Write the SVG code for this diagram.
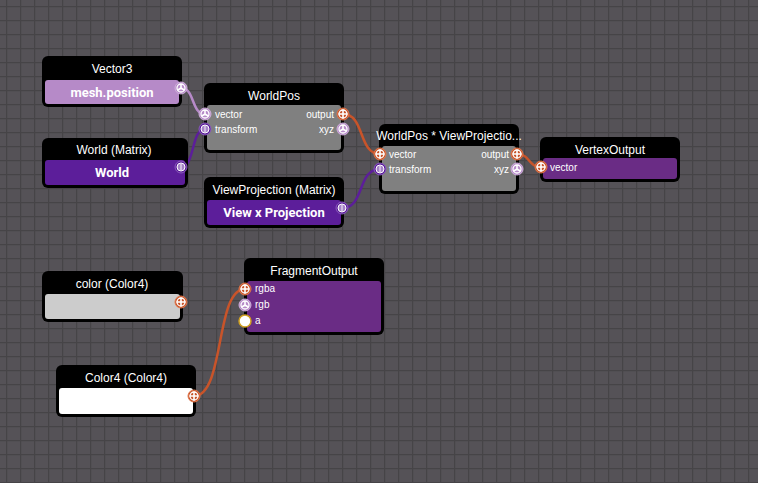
<svg xmlns="http://www.w3.org/2000/svg" width="758" height="483" viewBox="0 0 758 483">
<defs>
<pattern id="grid" x="6" y="6" width="14" height="14" patternUnits="userSpaceOnUse">
<rect width="14" height="14" fill="#555257"/>
<path d="M0 0.5H14M0.5 0V14" stroke="#464447" stroke-width="1.5"/>
</pattern>
<g id="p4"><circle r="6" fill="#c8542a" stroke="#e0764a" stroke-width="1"/><path d="M-4.5 0H4.5M0 -4.5V4.5" stroke="#fff" stroke-width="1.6"/><circle r="4" fill="none" stroke="#fff" stroke-width="1.3"/></g>
<g id="p3"><circle r="6" fill="#b68ac8" stroke="#d0b0dc"/><circle r="4" fill="none" stroke="#fff" stroke-width="1.3"/><path d="M0 0V-4M0 0L3.5 2.2M0 0L-3.5 2.2" stroke="#fff" stroke-width="1.6"/></g>
<g id="pm"><circle r="6" fill="#5c1e9a" stroke="#8a5cbc"/><circle r="4" fill="none" stroke="#fff" stroke-width="1"/><path d="M-4 0H4M0 -4V4M-3 -2H3M-3 2H3" stroke="#fff" stroke-width="0.9"/></g>
<g id="pa"><circle r="6" fill="#fff" stroke="#d0a020" stroke-width="1.5"/></g>
</defs>
<style>
.hd{fill:#000}
.t{font-family:"Liberation Sans",Arial,sans-serif;font-size:12px;fill:#fff;text-anchor:middle}
.b{font-family:Roboto,"Liberation Sans",sans-serif;font-size:13px;font-weight:bold;fill:#fff;text-anchor:middle}
.s{font-family:"Liberation Sans",Arial,sans-serif;font-size:10px;fill:#fff}
.e{text-anchor:end}
.c{fill:none;stroke-width:2.5}
</style>
<rect width="758" height="483" fill="url(#grid)"/>
<g id="connectors">
<path class="c" stroke="#b68ac8" d="M181 88C195 88 191 114 205 114"/>
<path class="c" stroke="#5c1e9a" d="M181 167C195 167 191 129 205 129"/>
<path class="c" stroke="#c8542a" d="M343 114C365 114 358 154 380 154"/>
<path class="c" stroke="#5c1e9a" d="M342 208C365 208 357 169 380 169"/>
<path class="c" stroke="#c8542a" d="M517 154C530 154 528 167 541 167"/>
<path class="c" stroke="#c8542a" d="M194 396C225 396 215 289 245 289"/>
</g>
<g id="vector3">
<rect x="42" y="56" width="140" height="51" rx="6" class="hd"/>
<rect x="45" y="80" width="134" height="24" rx="3" fill="#b68ac8"/>
<text x="112" y="73" class="t">Vector3</text>
<text x="112" y="97" class="b">mesh.position</text>
<use href="#p3" x="181" y="88"/>
</g>
<g id="world">
<rect x="42" y="138" width="146" height="50" rx="6" class="hd"/>
<rect x="45" y="160" width="140" height="25" rx="3" fill="#5c1e9a"/>
<text x="114" y="154" class="t">World (Matrix)</text>
<text x="112" y="177" class="b">World</text>
<use href="#pm" x="181" y="167"/>
</g>
<g id="worldpos">
<rect x="204" y="83" width="140" height="70" rx="6" class="hd"/>
<rect x="207" y="105" width="134" height="45" rx="3" fill="#808080"/>
<text x="274" y="100" class="t">WorldPos</text>
<text x="215" y="118" class="s">vector</text>
<text x="215" y="133" class="s">transform</text>
<text x="334" y="118" class="s e" text-anchor="end">output</text>
<text x="334" y="133" class="s e" text-anchor="end">xyz</text>
<use href="#p3" x="205" y="114"/>
<use href="#pm" x="205" y="129"/>
<use href="#p4" x="343" y="114"/>
<use href="#p3" x="343" y="129"/>
</g>
<g id="viewprojection">
<rect x="204" y="177" width="140" height="51" rx="6" class="hd"/>
<rect x="207" y="200" width="134" height="25" rx="3" fill="#5c1e9a"/>
<text x="274" y="194" class="t">ViewProjection (Matrix)</text>
<text x="274" y="217" class="b">View x Projection</text>
<use href="#pm" x="342" y="208"/>
</g>
<g id="wpvp">
<rect x="379" y="124" width="140" height="70" rx="6" class="hd"/>
<rect x="382" y="146" width="134" height="45" rx="3" fill="#808080"/>
<text x="449" y="140" class="t">WorldPos * ViewProjectio...</text>
<text x="389" y="158" class="s">vector</text>
<text x="389" y="173" class="s">transform</text>
<text x="509" y="158" class="s e" text-anchor="end">output</text>
<text x="509" y="173" class="s e" text-anchor="end">xyz</text>
<use href="#p4" x="380" y="154"/>
<use href="#pm" x="380" y="169"/>
<use href="#p4" x="517" y="154"/>
<use href="#p3" x="517" y="169"/>
</g>
<g id="vertexoutput">
<rect x="540" y="137" width="140" height="45" rx="6" class="hd"/>
<rect x="543" y="158" width="134" height="21" rx="3" fill="#6a2c85"/>
<text x="610" y="154" class="t">VertexOutput</text>
<text x="550" y="171" class="s">vector</text>
<use href="#p4" x="541" y="167"/>
</g>
<g id="color">
<rect x="42" y="271" width="141" height="51" rx="6" class="hd"/>
<rect x="45" y="294" width="135" height="25" rx="3" fill="#cccccc"/>
<text x="112" y="288" class="t">color (Color4)</text>
<use href="#p4" x="181" y="302"/>
</g>
<g id="fragmentoutput">
<rect x="244" y="258" width="140" height="77" rx="6" class="hd"/>
<rect x="247" y="281" width="134" height="51" rx="3" fill="#6a2c85"/>
<text x="314" y="275" class="t">FragmentOutput</text>
<text x="255" y="292" class="s">rgba</text>
<text x="255" y="308" class="s">rgb</text>
<text x="255" y="324" class="s">a</text>
<use href="#p4" x="245" y="289"/>
<use href="#p3" x="245" y="305"/>
<use href="#pa" x="245" y="321"/>
</g>
<g id="color4">
<rect x="56" y="365" width="140" height="52" rx="6" class="hd"/>
<rect x="59" y="388" width="134" height="26" rx="3" fill="#ffffff"/>
<text x="126" y="382" class="t">Color4 (Color4)</text>
<use href="#p4" x="194" y="396"/>
</g>
</svg>
